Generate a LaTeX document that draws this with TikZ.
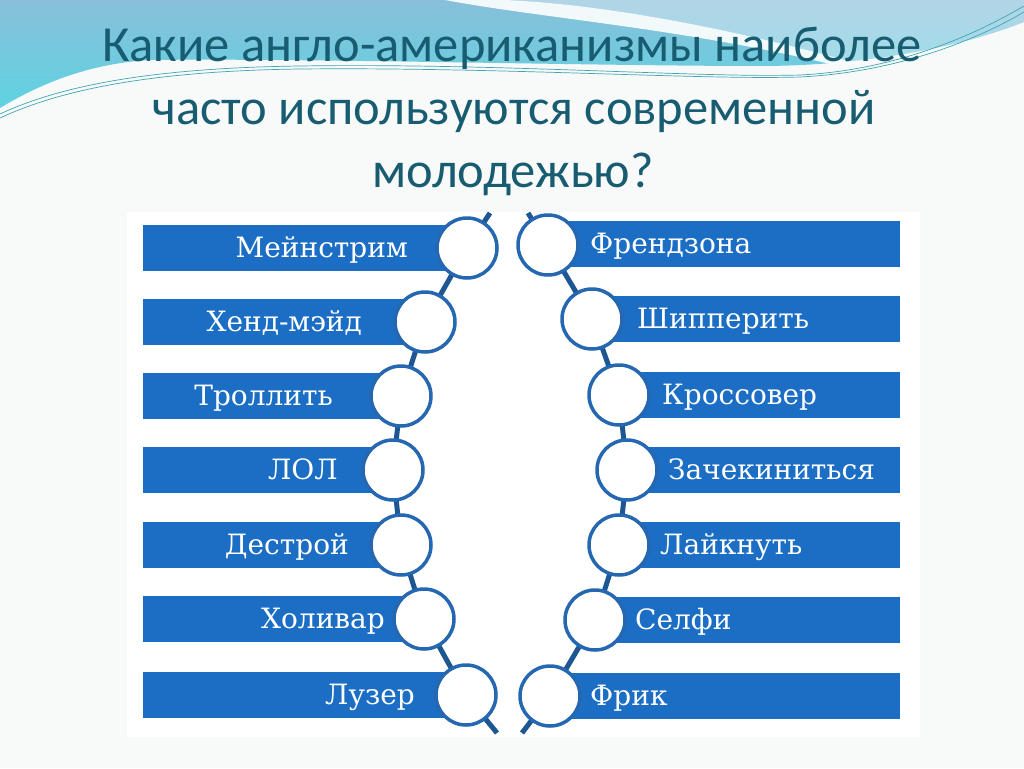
\documentclass[tikz,border=0pt]{standalone}
\usepackage{fontspec}
\setmainfont{Carlito}
\newfontfamily\barfont{DejaVu Serif}
\definecolor{bgcol}{HTML}{F8F9F9}
\definecolor{skyA}{HTML}{88BFDA}
\definecolor{skyB}{HTML}{5ED3E1}
\definecolor{lineteal}{HTML}{3FA6B4}
\definecolor{titlecol}{HTML}{175C70}
\definecolor{barblue}{HTML}{1C6EC4}
\definecolor{ringblue}{HTML}{2567B0}
\definecolor{chainblue}{HTML}{1D5791}
\tikzset{
  ring/.style={circle, draw=ringblue, line width=3.5pt, fill=white, minimum size=60pt, inner sep=0pt},
  chainline/.style={draw=chainblue, line width=5pt},
  lbl/.style={text=white, font=\barfont\fontsize{28}{30}\selectfont, inner sep=0pt},
  titletext/.style={text=titlecol, font=\fontsize{50.5}{58}\selectfont, inner sep=0pt},
  thinline/.style={draw=lineteal, line width=0.7pt},
}
\begin{document}
\begin{tikzpicture}[x=1pt,y=-1pt]
\useasboundingbox (0,0) rectangle (1024,768);
\fill[bgcol] (0,0) rectangle (1024,768);
% top decoration
\shade[top color=skyA, bottom color=skyB]
  (0,0) -- (1024,0) -- (1024,22)
  .. controls (960,48) and (860,66) .. (760,66)
  .. controls (600,66) and (300,58) .. (150,60)
  .. controls (80,64) and (30,90) .. (0,108) -- cycle;
\fill[white, opacity=0.35] (505,0) .. controls (580,3) and (700,20) .. (860,64)
  .. controls (930,56) and (990,40) .. (1024,22) -- (1024,0) -- cycle;
\fill[white, opacity=0.9] (445,0) .. controls (540,18) and (680,28) .. (830,64)
  -- (860,64) .. controls (700,20) and (580,3) .. (505,0) -- cycle;
\fill[bgcol] (0,112) .. controls (30,94) and (80,68) .. (150,64)
  .. controls (300,62) and (600,70) .. (760,70)
  .. controls (860,70) and (960,52) .. (1024,26) -- (1024,768) -- (0,768) -- cycle;
\draw[thinline] (0,114) .. controls (60,86) and (150,68) .. (300,66)
  .. controls (500,63) and (700,78) .. (800,75) .. controls (900,70) and (980,32) .. (1024,6);
\draw[thinline] (0,118) .. controls (60,90) and (150,71) .. (300,69)
  .. controls (500,67) and (700,80) .. (800,77) .. controls (900,72) and (980,38) .. (1024,12);
% title
\node[titletext, anchor=base] (t1) at (512,62) {Какие англо-американизмы наиболее};
\node[titletext, anchor=base] (t2) at (514,124) {часто используются современной};
\node[titletext, anchor=base] (t3) at (513,187) {молодежью?};
% panel
\fill[white] (127,212) rectangle (920,737);
% coordinates
\foreach \i/\cx/\cy in {1/467/248,2/425/322,3/401/396,4/393/470,5/401/545,6/424/619,7/466/695}
  \coordinate (lc\i) at (\cx,\cy);
\foreach \i/\cx/\cy in {1/548/245,2/592/319,3/619/395,4/627/470,5/619/545,6/595/620,7/550/696}
  \coordinate (rc\i) at (\cx,\cy);
\coordinate (ltop) at (490,213);
\coordinate (lbot) at (497,733);
\coordinate (rtop) at (528,213);
\coordinate (rbot) at (522,733);
% chains
\draw[chainline] (ltop) -- (lc1) -- (lc2) -- (lc3) -- (lc4) -- (lc5) -- (lc6) -- (lc7) -- (lbot);
\draw[chainline] (rtop) -- (rc1) -- (rc2) -- (rc3) -- (rc4) -- (rc5) -- (rc6) -- (rc7) -- (rbot);
% bars
\foreach \i/\cx/\cy in {1/467/248,2/425/322,3/401/396,4/393/470,5/401/545,6/424/619,7/466/695}
  \fill[barblue] (143,\cy-23) rectangle (\cx,\cy+23);
\foreach \i/\cx/\cy in {1/548/244,2/592/319,3/619/395,4/627/470,5/619/545,6/595/620,7/550/696}
  \fill[barblue] (\cx,\cy-23) rectangle (900,\cy+23);
% circles
\foreach \i in {1,...,7} {
  \node[ring] (L\i) at (lc\i) {};
  \node[ring] (R\i) at (rc\i) {};
}
% labels
\foreach \i/\tx/\cy/\txt in {1/408/248/Мейнстрим,2/362/322/Хенд-мэйд,3/333/396/Троллить,4/338/470/ЛОЛ,5/349/545/Дестрой,6/385/619/Холивар,7/415/695/Лузер}
  \node[lbl, anchor=base east] (LT\i) at (\tx,\cy+9) {\txt};
\foreach \i/\tx/\cy/\txt in {1/590/244/Френдзона,2/637/319/Шипперить,3/662/395/Кроссовер,4/668/470/Зачекиниться,5/660/545/Лайкнуть,6/635/620/Селфи,7/590/696/Фрик}
  \node[lbl, anchor=base west] (RT\i) at (\tx,\cy+9) {\txt};
\end{tikzpicture}
\end{document}
